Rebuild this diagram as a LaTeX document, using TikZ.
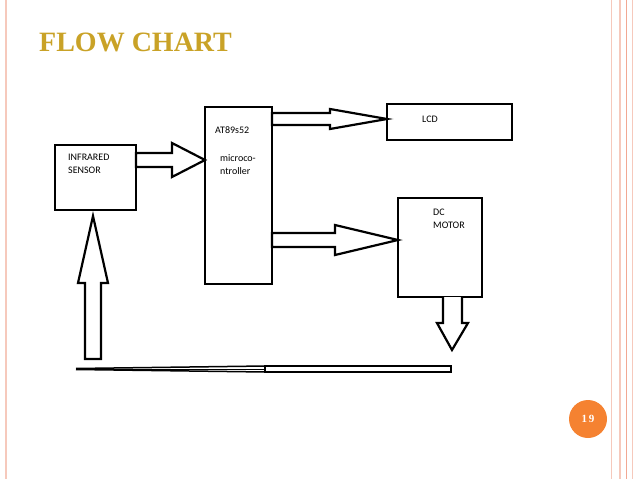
\documentclass[tikz,border=0pt]{standalone}
\usepackage{fontspec}
\setmainfont{Liberation Serif}
\newfontfamily\boxfont{Carlito}
\definecolor{gold}{HTML}{C9A227}
\definecolor{pinkline}{HTML}{F6C9BC}
\definecolor{pinkdark}{HTML}{F2A893}
\definecolor{orng}{HTML}{F58231}
\begin{document}
\begin{tikzpicture}[x=1pt,y=-1pt,
  blk/.style={draw,line width=2.4pt,inner sep=0pt},
  fat/.style={draw,line width=2.2pt,fill=white,line join=miter},
  lbl/.style={font=\boxfont\fontsize{10}{13}\selectfont,align=left,anchor=north west,inner sep=0pt}]
\useasboundingbox (0,0) rectangle (638,479);
% borders
\draw[pinkline,line width=2pt] (6,0) -- (6,479);
\draw[pinkline,line width=1.2pt] (611.5,0) -- (611.5,479);
\draw[pinkline,line width=2.5pt] (620,0) -- (620,479);
\draw[pinkdark,line width=1pt] (626,0) -- (626,479);
\draw[pinkline,line width=1pt] (632,0) -- (632,479);
% title
\node[anchor=base west,text=gold,font=\bfseries\fontsize{28}{30}\selectfont,inner sep=0pt] (title) at (39,52) {FLOW CHART};
% boxes
\draw[blk] (55,145) rectangle (136,210);
\node[lbl] (ir) at (68,154) {INFRARED\\SENSOR};
\draw[blk] (205,107) rectangle (272,284);
\node[lbl] (mc) at (215,126) {AT89s52};
\node[lbl] (mc2) at (220,154) {microco-\\ntroller};
\draw[blk] (387,104) rectangle (512,140);
\node[lbl] (lcd) at (422,116) {LCD};
\draw[blk] (398,198) rectangle (482,297);
\node[lbl] (dc) at (433,209) {DC\\MOTOR};
% arrows
\draw[fat] (136,153) -- (172,153) -- (172,143) -- (205,160) -- (172,177) -- (172,167) -- (136,167) -- cycle;
\draw[fat] (272,113) -- (330,113) -- (330,109) -- (387,119) -- (330,129) -- (330,125) -- (272,125) -- cycle;
\draw[fat] (272,233) -- (335,233) -- (335,225) -- (398,240) -- (335,255) -- (335,247) -- (272,247) -- cycle;
\draw[fat] (443,297) -- (443,323) -- (437,323) -- (452,350) -- (468,323) -- (462,323) -- (462,297);
\draw[fat] (85,359) -- (85,283) -- (78,283) -- (93,216) -- (108,283) -- (101,283) -- (101,359) -- cycle;
% bottom line
\draw[line width=1pt] (76,369) -- (265,369);
\draw[line width=1.5pt] (76,368.5) -- (265,366) (76,369.5) -- (265,372);
\draw[line width=2pt,fill=white] (265,365.5) rectangle (451,372);
% page number
\fill[orng] (588,419) circle (19);
\node[text=white,font=\bfseries\fontsize{11}{12}\selectfont] (pg) at (588,419) {1\,9};
\end{tikzpicture}
\end{document}
